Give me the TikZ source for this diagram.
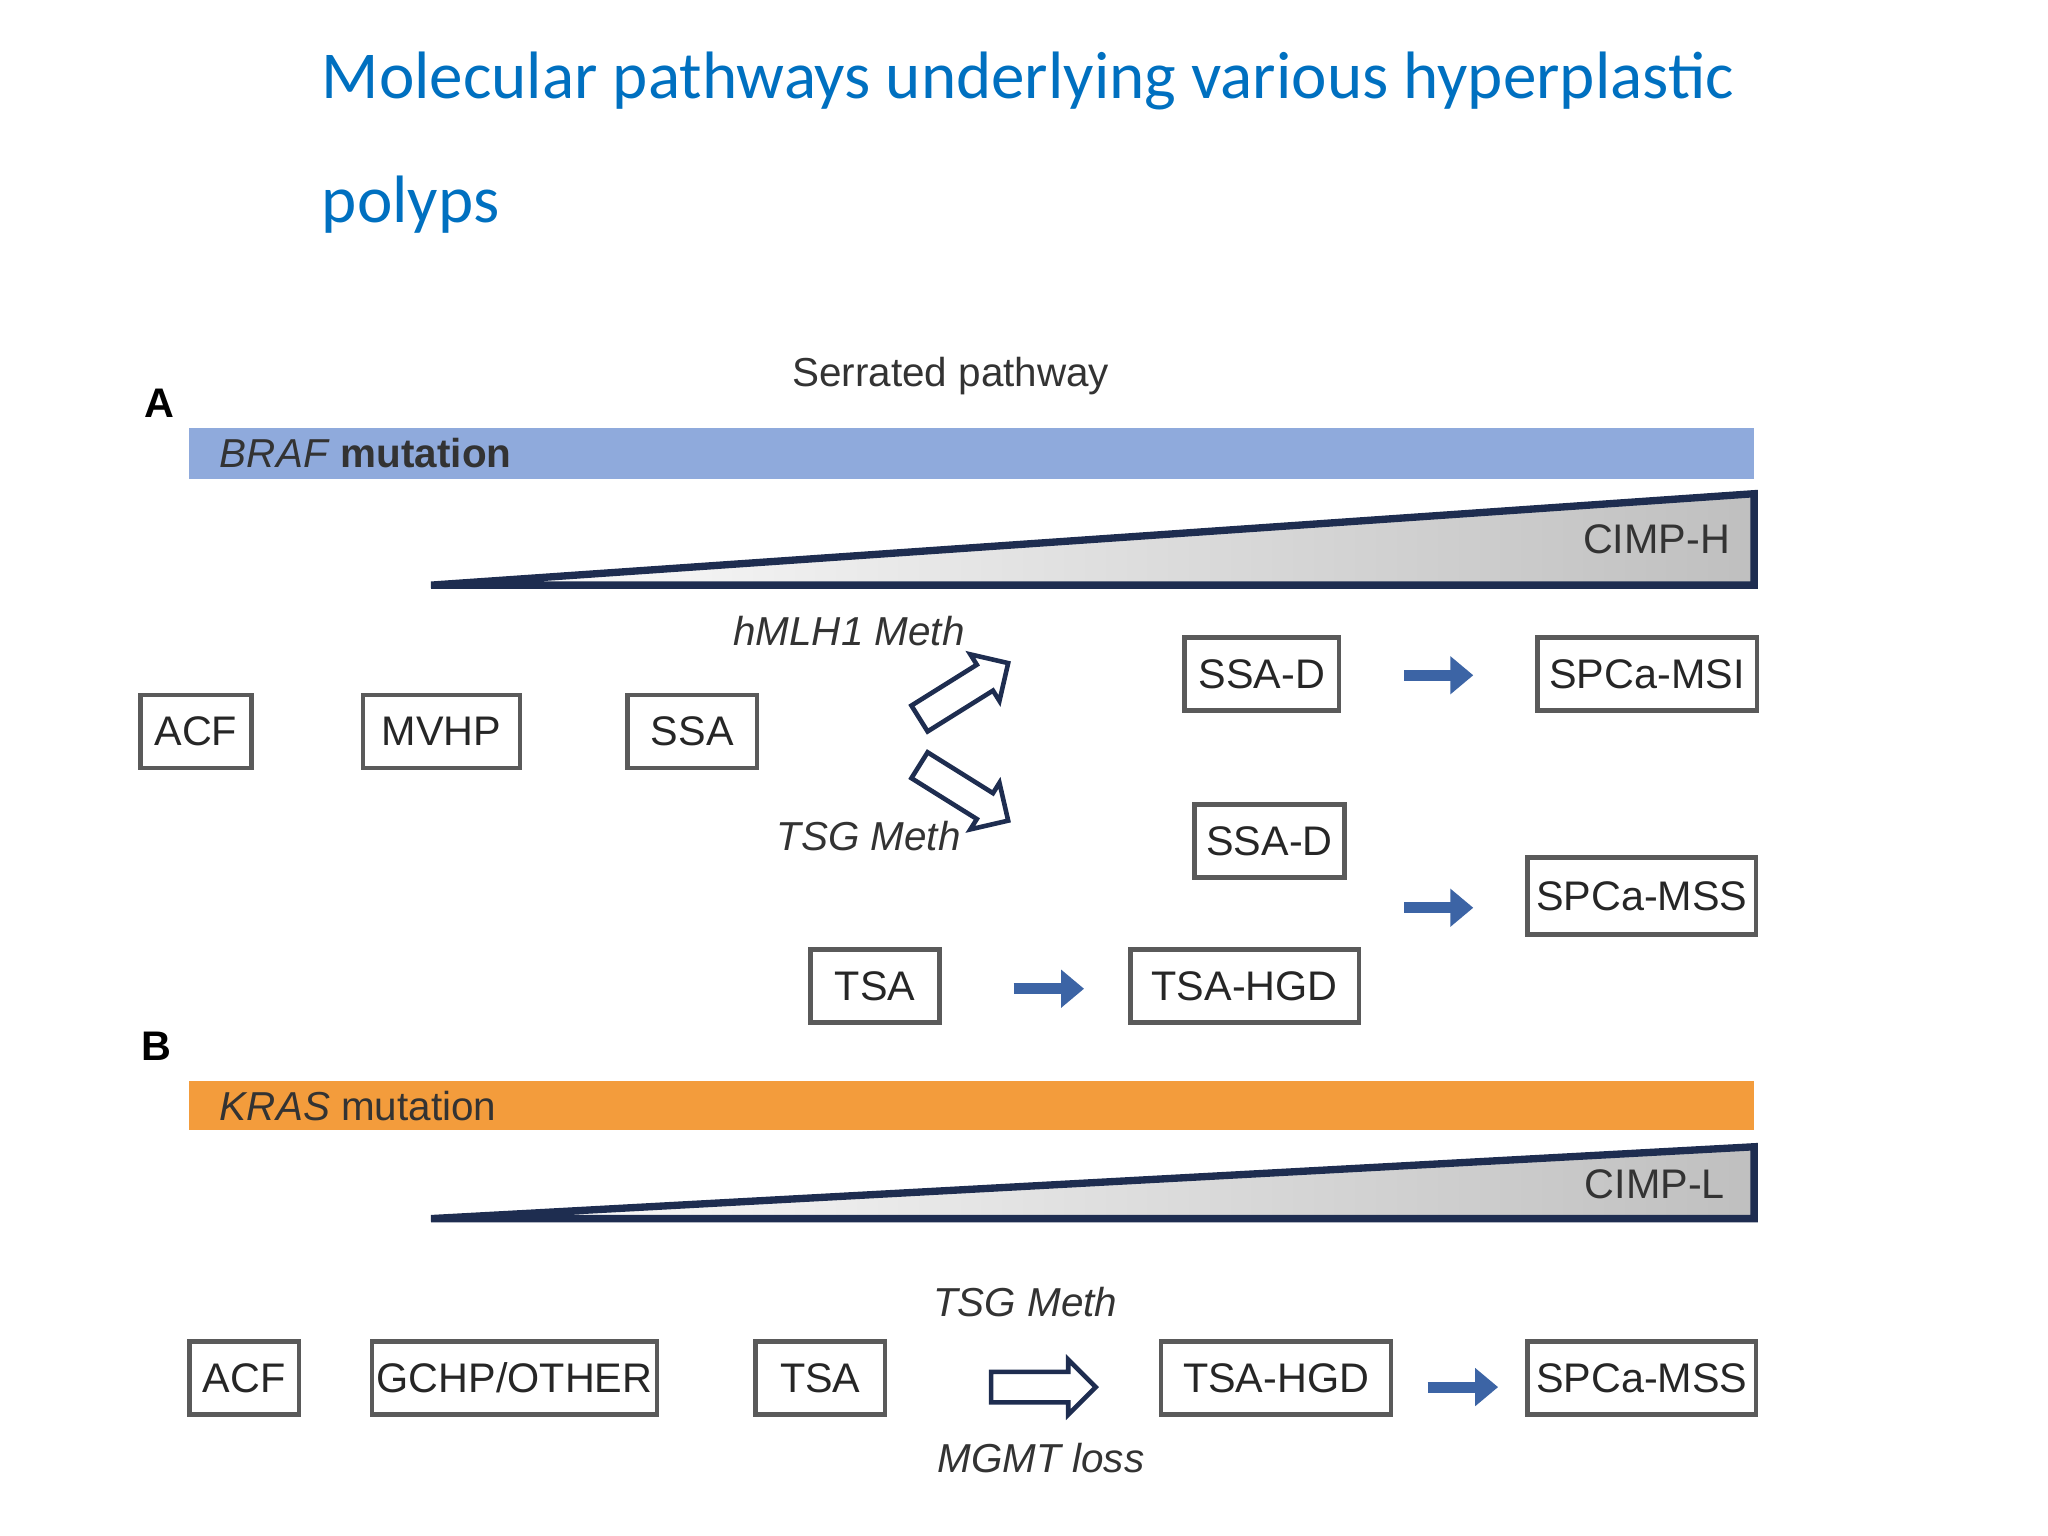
\documentclass[tikz,border=0pt]{standalone}
\usepackage{fontspec}
\setmainfont{Liberation Sans}
\newfontfamily\titlefont{Carlito}
\usetikzlibrary{arrows.meta,shapes.arrows}
\definecolor{titleblue}{RGB}{0,112,192}
\definecolor{barblue}{RGB}{143,170,220}
\definecolor{barorange}{RGB}{243,156,60}
\definecolor{navy}{RGB}{30,45,80}
\definecolor{arrowblue}{RGB}{60,100,165}
\definecolor{boxgray}{RGB}{90,90,90}
\begin{document}
\begin{tikzpicture}[x=0.01cm,y=-0.01cm,
  box/.style={draw=boxgray,line width=1pt,minimum height=0.56cm,inner sep=0pt,font=\fontsize{9}{11}\selectfont,text=black!85},
  lbl/.style={font=\fontsize{8.8}{11}\selectfont\itshape,text=black!80},
  flow/.style={draw=arrowblue,line width=2.4pt,-{Triangle[length=5pt,width=8pt]}},
  hollow/.style={single arrow,draw=navy,line width=1pt,fill=white,minimum height=0.8cm,minimum width=0.42cm,single arrow head extend=0.07cm,inner xsep=0pt,inner ysep=0.07cm},
  ]
\useasboundingbox (0,0) rectangle (1568,1176);
\node[anchor=west,text=titleblue,font=\titlefont\fontsize{14.6}{17}\selectfont] (t1) at (234,62) {Molecular pathways underlying various hyperplastic};
\node[anchor=west,text=titleblue,font=\titlefont\fontsize{14.6}{17}\selectfont] (t2) at (234,157) {polyps};
% Panel A
\node[font=\fontsize{9}{11}\selectfont\bfseries] (A) at (122,309) {A};
\node[font=\fontsize{8.8}{11}\selectfont,text=black!80] (sp) at (728,288) {Serrated pathway};
\fill[barblue] (145,328) rectangle (1343,367);
\node[anchor=west,font=\fontsize{8.8}{11}\selectfont,text=black!80] (braf) at (156,347) {\textit{BRAF} \textbf{mutation}};
\shade[left color=white,right color=black!25] (330,448) -- (1343,378) -- (1343,448) -- cycle;
\draw[draw=navy,line width=1.6pt,line join=miter] (330,448) -- (1343,378) -- (1343,448) -- cycle;
\node[anchor=east,font=\fontsize{9}{11}\selectfont,text=black!80] (ch) at (1337,413) {CIMP-H};
\node[box,minimum width=0.85cm] (acf1) at (150,560) {ACF};
\node[box,minimum width=1.2cm] (mvhp) at (338,560) {MVHP};
\node[box,minimum width=0.99cm] (ssa) at (530,560) {SSA};
\node[lbl] (hm) at (650,483) {hMLH1 Meth};
\node[hollow,rotate=32] (h1) at (733,532) {};
\node[hollow,rotate=-32] (h2) at (733,604) {};
\node[lbl] (tsg1) at (665,640) {TSG Meth};
\node[box,minimum width=1.18cm] (ssad1) at (966,516) {SSA-D};
\node[box,minimum width=1.68cm] (msi) at (1261,516) {SPCa-MSI};
\coordinate (a1s) at (1075,517); \coordinate (a1e) at (1128,517);
\draw[flow] (a1s) -- (a1e);
\node[box,minimum width=1.15cm] (ssad2) at (972,644) {SSA-D};
\node[box,minimum width=1.75cm,minimum height=0.59cm] (mss1) at (1257,686) {SPCa-MSS};
\coordinate (a2s) at (1075,695); \coordinate (a2e) at (1128,695);
\draw[flow] (a2s) -- (a2e);
\node[box,minimum width=0.99cm] (tsa1) at (670,755) {TSA};
\node[box,minimum width=1.75cm] (hgd1) at (953,755) {TSA-HGD};
\coordinate (a3s) at (776,757); \coordinate (a3e) at (830,757);
\draw[flow] (a3s) -- (a3e);
% Panel B
\node[font=\fontsize{9}{11}\selectfont\bfseries] (B) at (120,801) {B};
\fill[barorange] (145,828) rectangle (1343,865);
\node[anchor=west,font=\fontsize{8.8}{11}\selectfont,text=black!80] (kras) at (156,847) {\textit{KRAS} mutation};
\shade[left color=white,right color=black!25] (330,933) -- (1343,878) -- (1343,933) -- cycle;
\draw[draw=navy,line width=1.6pt,line join=miter] (330,933) -- (1343,878) -- (1343,933) -- cycle;
\node[anchor=east,font=\fontsize{9}{11}\selectfont,text=black!80] (cl) at (1333,907) {CIMP-L};
\node[box,minimum width=0.84cm] (acf2) at (187,1055) {ACF};
\node[box,minimum width=2.18cm] (gchp) at (394,1055) {GCHP/OTHER};
\node[box,minimum width=0.99cm] (tsa2) at (628,1055) {TSA};
\node[hollow] (h3) at (793,1062) {};
\node[lbl] (tsg2) at (785,997) {TSG Meth};
\node[lbl] (mgmt) at (797,1116) {MGMT loss};
\node[box,minimum width=1.76cm] (hgd2) at (977,1055) {TSA-HGD};
\node[box,minimum width=1.75cm] (mss2) at (1257,1055) {SPCa-MSS};
\coordinate (a4s) at (1093,1062); \coordinate (a4e) at (1147,1062);
\draw[flow] (a4s) -- (a4e);
\end{tikzpicture}
\end{document}
